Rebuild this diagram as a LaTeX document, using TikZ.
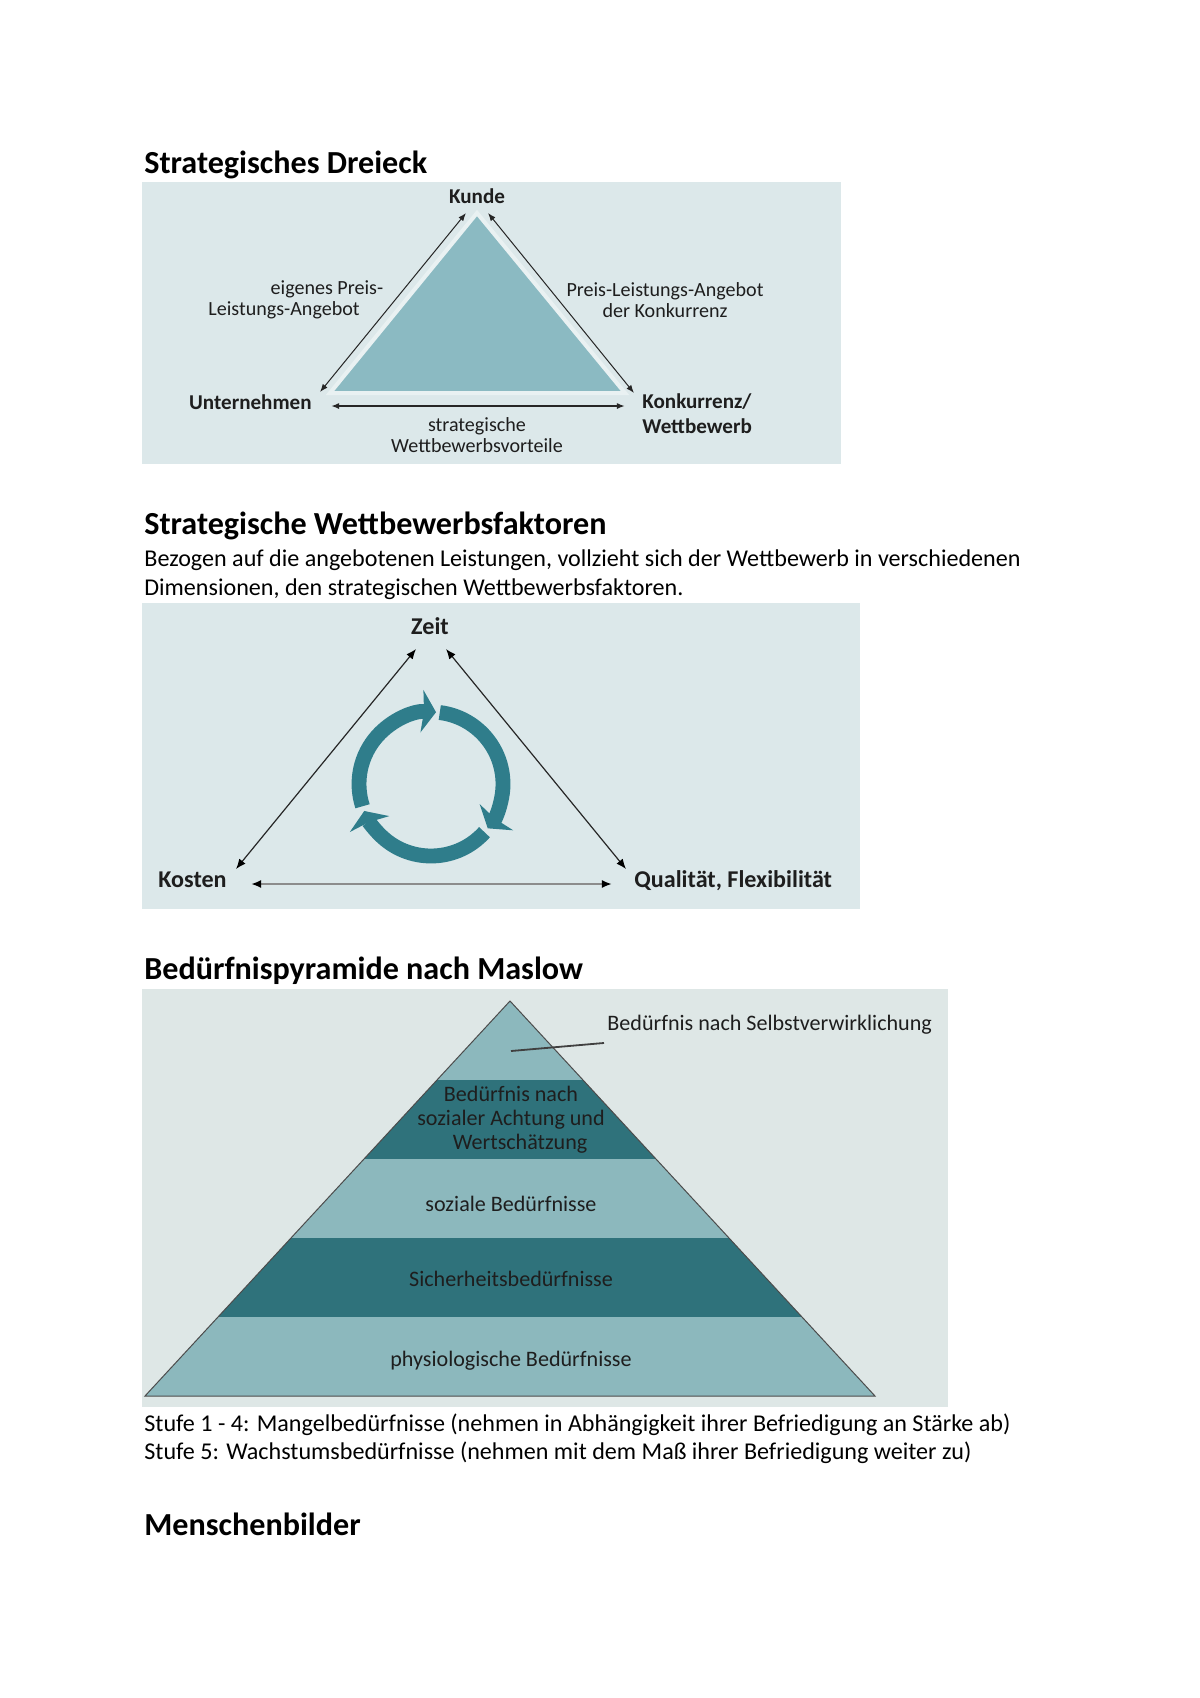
\documentclass[tikz,border=0pt]{standalone}
\usepackage{fontspec}
\setmainfont{Carlito}
\usepackage{xcolor}
\usepackage{tikz}
\usetikzlibrary{arrows.meta,positioning,calc}
\definecolor{panelbg}{HTML}{DCE8EA}
\definecolor{pyrbg}{HTML}{DEE7E6}
\definecolor{triteal}{HTML}{8BBAC2}
\definecolor{tririm}{HTML}{E9F1F2}
\definecolor{ringteal}{HTML}{2F7D8B}
\definecolor{layerlight}{HTML}{8CB8BD}
\definecolor{layerdark}{HTML}{2F727B}
\definecolor{labelgray}{HTML}{1E1E1E}

\begin{document}
\begin{tikzpicture}[
    x=0.0175cm, y=-0.0175cm,
    heading/.style={anchor=base west, inner sep=0pt, font=\bfseries\fontsize{16}{19}\selectfont},
    bodytext/.style={anchor=base west, inner sep=0pt, font=\fontsize{12}{14.5}\selectfont},
    corner/.style={inner sep=0pt, text=labelgray, font=\bfseries\fontsize{10.5}{12.4}\selectfont},
    sidelabel/.style={inner sep=0pt, text=labelgray, font=\fontsize{10}{10.7}\selectfont},
    factor/.style={inner sep=0pt, text=labelgray, font=\bfseries\fontsize{12}{14}\selectfont},
    layer/.style={inner sep=0pt, align=center, text=labelgray, font=\fontsize{11}{11.9}\selectfont},
    dblarrow/.style={{Latex[length=4pt,width=3pt]}-{Latex[length=4pt,width=3pt]}, line width=0.5pt, color=black!85},
    factorarrow/.style={{Latex[length=5pt,width=4pt,color=black]}-{Latex[length=5pt,width=4pt,color=black]}, line width=0.6pt, color=black!85},
    ringarrow/.style={draw=ringteal, line width=7.4pt, -{Stealth[length=7pt,width=21pt,inset=1pt]}},
    pyredge/.style={draw=black!70, line width=0.5pt}
]
  \useasboundingbox (0,0) rectangle (1200,1698);
  \fill[white] (0,0) rectangle (1200,1698);

  % Strategisches Dreieck
  \node[heading] (h1) at (144,173) {Strategisches Dreieck};
  \fill[panelbg] (142,182) rectangle (841,464);
  \fill[triteal, draw=tririm, line width=2pt] (477,213) -- (330,393) -- (625,393) -- cycle;
  \node[corner, anchor=base] (kunde) at (477,203) {Kunde};
  \node[corner, anchor=base east] (unternehmen) at (312,409) {Unternehmen};
  \node[corner, anchor=west, align=left] (konkurrenz) at (642,414) {Konkurrenz/\\Wettbewerb};
  \node[sidelabel, anchor=west, align=left] (eigen) at (208,300) {\hspace*{31pt}eigenes Preis-\\Leistungs-Angebot};
  \node[sidelabel, align=center] (fremd) at (665,300) {Preis-Leistungs-Angebot\\der Konkurrenz};
  \node[sidelabel, align=center] (vorteil) at (477,435) {strategische\\Wettbewerbsvorteile};
  \coordinate (kundeL) at (466,213);
  \coordinate (kundeR) at (488,213);
  \coordinate (untT) at (320,392);
  \coordinate (untR) at (331,406);
  \coordinate (konT) at (634,393);
  \coordinate (konL) at (625,406);
  \draw[dblarrow] (kundeL) -- (untT);
  \draw[dblarrow] (kundeR) -- (konT);
  \draw[dblarrow, line width=0.9pt] (untR) -- (konL);

  % Strategische Wettbewerbsfaktoren
  \node[heading] (h2) at (144,534) {Strategische Wettbewerbsfaktoren};
  \node[bodytext] (intro1) at (144,566) {Bezogen auf die angebotenen Leistungen, vollzieht sich der Wettbewerb in verschiedenen};
  \node[bodytext] (intro2) at (144,595) {Dimensionen, den strategischen Wettbewerbsfaktoren.};
  \fill[panelbg] (142,603) rectangle (860,909);
  \node[factor, anchor=base] (zeit) at (430,634) {Zeit};
  \node[factor, anchor=base west] (kosten) at (158,887) {Kosten};
  \node[factor, anchor=base west] (qualitaet) at (634,887) {Qualität, Flexibilität};
  \coordinate (zeitL) at (416,649);
  \coordinate (zeitR) at (446,649);
  \coordinate (kostenT) at (236,869);
  \coordinate (kostenR) at (251,884);
  \coordinate (qualT) at (626,869);
  \coordinate (qualL) at (612,884);
  \draw[factorarrow] (zeitL) -- (kostenT);
  \draw[factorarrow] (zeitR) -- (qualT);
  \draw[factorarrow, draw=black!45, line width=1.1pt] (kostenR) -- (qualL);
  % cycle in the middle
  \coordinate (ring) at (431,784);
  \foreach \s/\e in {198/86, 83/-38, -42/-158}
    \draw[ringarrow] ([shift={(\s:1.26cm)}]ring) arc[start angle=\s, end angle=\e, radius=1.26cm];

  % Beduerfnispyramide
  \node[heading] (h3) at (144,979) {Bedürfnispyramide nach Maslow};
  \fill[pyrbg] (142,989) rectangle (948,1407);
  \coordinate (apex) at (510,1001);
  \coordinate (bl) at (145,1396);
  \coordinate (br) at (875,1396);
  \foreach \i/\j/\c in {0/1/layerlight, 1/2/layerdark, 2/3/layerlight, 3/4/layerdark, 4/5/layerlight}
    \fill[\c] ($(apex)!\i/5!(bl)$) -- ($(apex)!\i/5!(br)$) -- ($(apex)!\j/5!(br)$) -- ($(apex)!\j/5!(bl)$) -- cycle;
  \draw[pyredge] (apex) -- (bl) -- (br) -- cycle;
  \node[layer, anchor=west] (selbst) at (607,1025) {Bedürfnis nach Selbstverwirklichung};
  \node[layer] (achtung) at (511,1120) {Bedürfnis nach\\sozialer Achtung und\\\hspace*{9pt}Wertschätzung};
  \node[layer] (sozial) at (511,1204) {soziale Bedürfnisse};
  \node[layer] (sicher) at (511,1279) {Sicherheitsbedürfnisse};
  \node[layer] (physio) at (511,1361) {physiologische Bedürfnisse};
  \coordinate (selbstpt) at (511,1051);
  \draw[black!75, line width=0.9pt] (selbstpt) -- ([shift={(-3,8)}]selbst.south west);

  % Text below
  \node[bodytext] (stufe1) at (144,1431) {Stufe 1 - 4: Mangelbedürfnisse (nehmen in Abhängigkeit ihrer Befriedigung an Stärke ab)};
  \node[bodytext] (stufe5) at (144,1459) {Stufe 5: Wachstumsbedürfnisse (nehmen mit dem Maß ihrer Befriedigung weiter zu)};
  \node[heading] (h4) at (144,1535) {Menschenbilder};
\end{tikzpicture}
\end{document}
